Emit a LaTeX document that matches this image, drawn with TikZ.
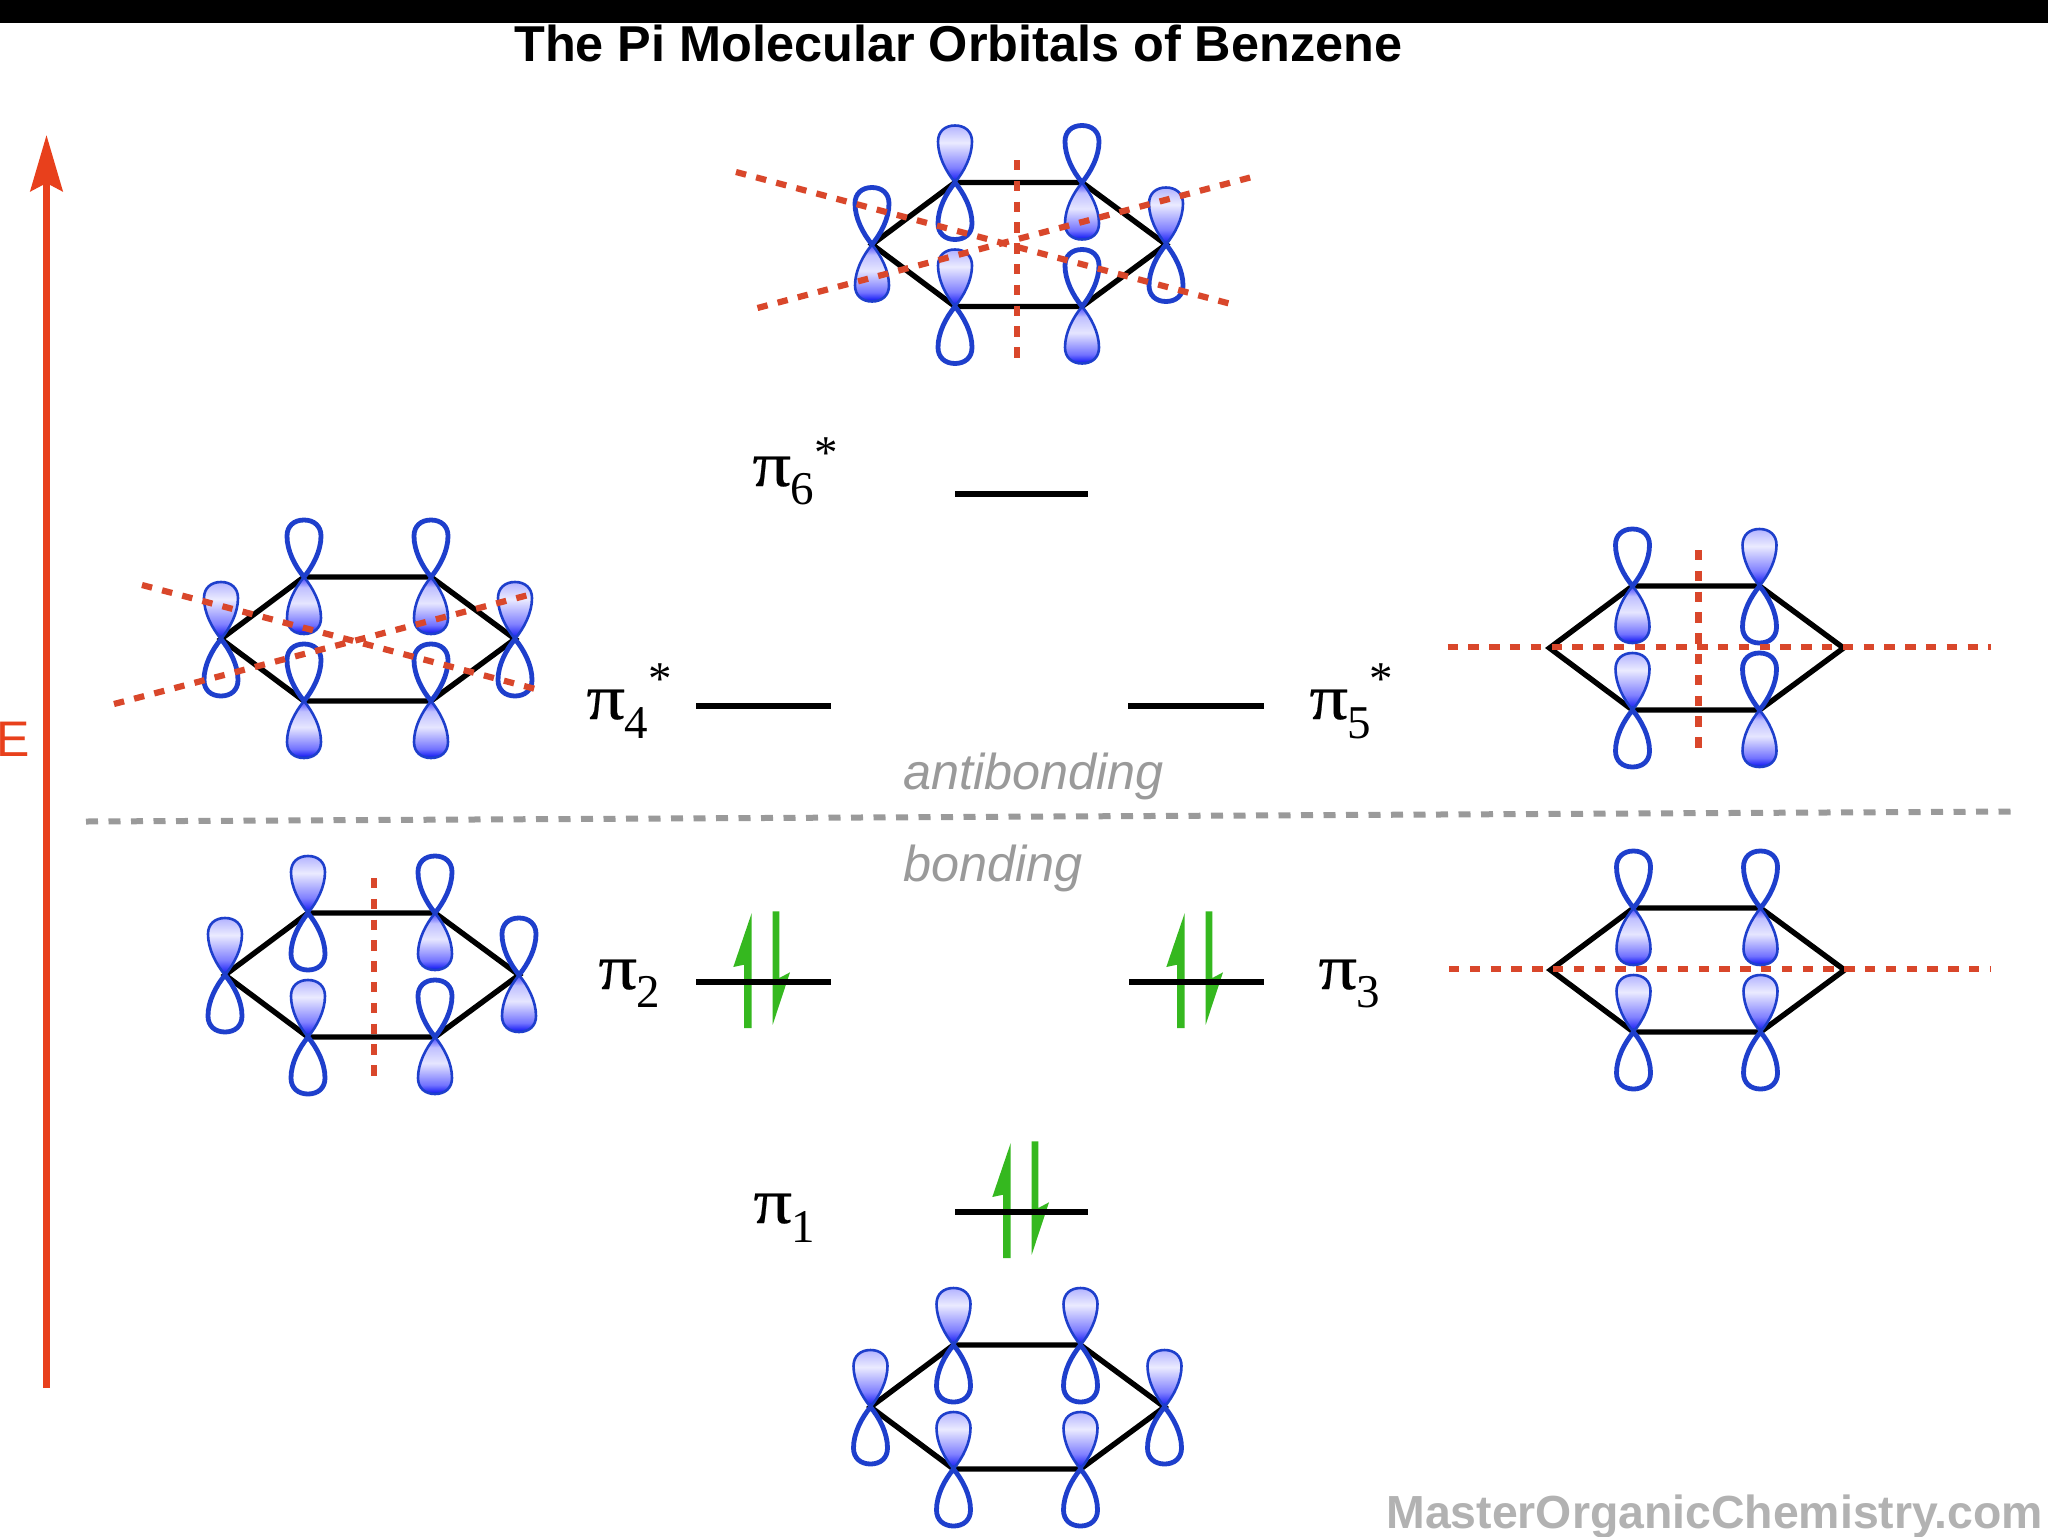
\documentclass[tikz,border=0pt]{standalone}
\usepackage{fontspec}
\setmainfont{Liberation Serif}
\newfontfamily\hel{Liberation Sans}
\newfontfamily\pifam[FakeStretch=1.2,FakeBold=0.4]{Liberation Serif}
\usetikzlibrary{arrows.meta}
\definecolor{lobeblue}{HTML}{1E3FCC}
\definecolor{redline}{HTML}{D9472B}
\definecolor{arrowred}{HTML}{E8401C}
\definecolor{spingreen}{HTML}{35B81F}
\definecolor{greyline}{HTML}{9A9A9A}
\definecolor{markgrey}{HTML}{B2B2B2}
\pgfdeclareverticalshading{lobeup}{100bp}{color(0bp)=(blue!75!lobeblue); color(25bp)=(blue!75!lobeblue); color(38bp)=(blue!50!white); color(60bp)=(blue!8!white); color(75bp)=(blue!30!white); color(100bp)=(blue!30!white)}
\pgfdeclareverticalshading{lobedown}{100bp}{color(0bp)=(blue!75!lobeblue); color(25bp)=(blue!75!lobeblue); color(33bp)=(blue!55!white); color(52bp)=(blue!10!white); color(66bp)=(blue!25!white); color(75bp)=(blue!75!white); color(100bp)=(blue!75!white)}
\tikzset{
  x=0.5pt,y=-0.5pt,
  bond/.style={line width=2.7pt,black,line join=miter},
  emptylobe/.style={draw=lobeblue,line width=2.4pt},
  fullup/.style={draw=lobeblue,line width=1.3pt,shading=lobeup},
  fulldown/.style={draw=lobeblue,line width=1.3pt,shading=lobedown},
  mirror/.style={draw=redline,line width=3.1pt,dash pattern=on 5.2pt off 5.2pt},
  lvl/.style={line width=3pt,black},
  spin/.style={fill=spingreen,draw=none},
  lab/.style={inner sep=0pt,anchor=base west},
}
\newcommand\uplobe{(0,0) .. controls (-9,-11) and (-17,-26) .. (-17,-41) .. controls (-17,-51) and (-10,-57) .. (0,-57) .. controls (10,-57) and (17,-51) .. (17,-41) .. controls (17,-26) and (9,-11) .. (0,0) -- cycle}
\newcommand\downlobe{(0,0) .. controls (-9,11) and (-17,26) .. (-17,41) .. controls (-17,51) and (-10,57) .. (0,57) .. controls (10,57) and (17,51) .. (17,41) .. controls (17,26) and (9,11) .. (0,0) -- cycle}
\newcommand\orbU{\path[fullup] \uplobe; \path[emptylobe] \downlobe;}
\newcommand\orbD{\path[emptylobe] \uplobe; \path[fulldown] \downlobe;}
\newcommand\orbN{}
% centre x, centre y, then the lobes of atoms L, TL, TR, R, BR, BL
\newcommand\benz[8]{%
 \begin{scope}[shift={(#1,#2)}]
  \coordinate (L) at (-147,0); \coordinate (TL) at (-64,-62); \coordinate (TR) at (63,-62);
  \coordinate (R) at (147,0); \coordinate (BR) at (63,62); \coordinate (BL) at (-64,62);
  \draw[bond] (L) -- (TL) -- (TR) -- (R) -- (BR) -- (BL) -- cycle;
  \begin{scope}[shift={(-147,0)}]\csname orb#3\endcsname\end{scope}
  \begin{scope}[shift={(-64,-62)}]\csname orb#4\endcsname\end{scope}
  \begin{scope}[shift={(63,-62)}]\csname orb#5\endcsname\end{scope}
  \begin{scope}[shift={(147,0)}]\csname orb#6\endcsname\end{scope}
  \begin{scope}[shift={(63,62)}]\csname orb#7\endcsname\end{scope}
  \begin{scope}[shift={(-64,62)}]\csname orb#8\endcsname\end{scope}
 \end{scope}}
\newcommand\mirrorline[4]{\coordinate (ma) at (#1,#2); \coordinate (mb) at (#3,#4); \draw[mirror] (ma) -- (mb);}
\newcommand\level[3]{\coordinate (la) at (#1,#2); \coordinate (lb) at (#3,#2); \draw[lvl] (la) -- (lb);}
\newcommand\spins[2]{\begin{scope}[shift={(#1,#2)}]
  \fill[spin] (55.7,-69) -- (55.7,46) -- (48,46) -- (48,-17.3) -- (37.3,-15) -- cycle;
  \fill[spin] (76.7,-70.7) -- (83.3,-70.7) -- (83.3,-4) -- (94,-9.7) -- (76.7,42.7) -- cycle;
 \end{scope}}
\newcommand\pifont{\pifam\fontsize{32pt}{34pt}\selectfont}
\newcommand\subfont{\fontsize{23.5pt}{25pt}\selectfont}
\begin{document}
\begin{tikzpicture}
\useasboundingbox (0,0) rectangle (2048,1536);
\fill[white] (0,0) rectangle (2048,1536);
\fill[black] (0,0) rectangle (2048,22.6);
\node[lab] (title) at (514,62) {\hel\bfseries\fontsize{25.2pt}{27pt}\selectfont The Pi Molecular Orbitals of Benzene};
% energy axis
\coordinate (eb) at (46.5,1388); \coordinate (et) at (46.5,135);
\draw[arrowred,line width=3.5pt,-{Stealth[length=28pt,width=16pt,inset=4pt]}] (eb) -- (et);
\node[lab,text=arrowred] (elabel) at (-4,756) {\hel\fontsize{25pt}{27pt}\selectfont E};
% divider
\coordinate (ga) at (86,821.5); \coordinate (gb) at (2018,811.5);
\draw[greyline,line width=3pt,dash pattern=on 6pt off 5.25pt] (ga) -- (gb);
\node[lab,text=greyline] (anti) at (903,789) {\hel\itshape\fontsize{25.2pt}{27pt}\selectfont antibonding};
\node[lab,text=greyline] (bond) at (903,881) {\hel\itshape\fontsize{25.2pt}{27pt}\selectfont bonding};
% molecules
\benz{1019}{244.5}{D}{U}{D}{U}{D}{U}
\mirrorline{1017}{160}{1017}{363}
\mirrorline{736}{172}{1231}{304}
\mirrorline{757.5}{308}{1252}{177}
\benz{368}{639}{U}{D}{D}{U}{D}{D}
\mirrorline{142}{585}{543}{691}
\mirrorline{114}{704}{536}{593}
\benz{1696.5}{648}{N}{D}{U}{N}{D}{U}
\mirrorline{1447.5}{647}{1991}{647}
\mirrorline{1698.5}{550}{1698.5}{752}
\benz{372}{975}{U}{U}{D}{D}{D}{U}
\mirrorline{374}{878}{374}{1080}
\benz{1697.5}{970}{N}{D}{D}{N}{U}{U}
\mirrorline{1449}{969}{1990}{969}
\benz{1017.5}{1407}{U}{U}{U}{U}{U}{U}
% spins and levels
\spins{696}{982}
\spins{1129}{982}
\spins{955}{1212}
\level{955}{494}{1088}
\level{696}{706}{831}
\level{1128}{706}{1264}
\level{696}{982}{831}
\level{1129}{982}{1264}
\level{955}{1212}{1088}
% labels
\node[lab] (p6) at (752,486) {\pifont π};
\node[lab] (p6s) at (790,504) {\subfont 6};
\node[lab] (p6a) at (814,468) {\subfont *};
\node[lab] (p4) at (586,719) {\pifont π};
\node[lab] (p4s) at (624,738) {\subfont 4};
\node[lab] (p4a) at (648,694) {\subfont *};
\node[lab] (p5) at (1309,719) {\pifont π};
\node[lab] (p5s) at (1347,738) {\subfont 5};
\node[lab] (p5a) at (1369,694) {\subfont *};
\node[lab] (p2) at (598,989) {\pifont π};
\node[lab] (p2s) at (636,1007) {\subfont 2};
\node[lab] (p3) at (1318,989) {\pifont π};
\node[lab] (p3s) at (1356,1007) {\subfont 3};
\node[lab] (p1) at (753,1223) {\pifont π};
\node[lab] (p1s) at (791,1242) {\subfont 1};
\node[lab,text=markgrey] (mark) at (1386,1528) {\hel\bfseries\fontsize{23.2pt}{25pt}\selectfont MasterOrganicChemistry.com};
\end{tikzpicture}
\end{document}
